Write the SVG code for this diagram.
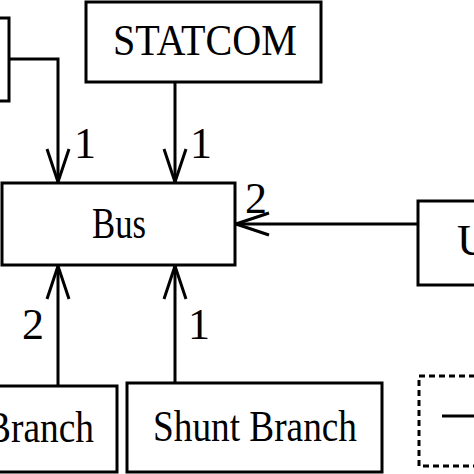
<svg xmlns="http://www.w3.org/2000/svg" width="474" height="474" viewBox="0 0 474 474">
<style>
.box{fill:#fff;stroke:#000;stroke-width:3}
.dash{fill:none;stroke:#000;stroke-width:3;stroke-dasharray:6 4}
.lbl{font-family:"Liberation Serif","Times New Roman",serif;font-size:45px;fill:#000}
.num{font-family:"Liberation Serif","Times New Roman",serif;font-size:44px;fill:#000}
.conn{fill:none;stroke:#000;stroke-width:3;marker-end:url(#arr)}
</style>
<defs>
<marker id="arr" markerUnits="userSpaceOnUse" viewBox="-36 -13 38 26" refX="0" refY="0" markerWidth="38" markerHeight="26" orient="auto">
<path d="M-33 -11 L0 0 L-33 11" fill="none" stroke="#000" stroke-width="3"/>
</marker>
</defs>
<rect width="474" height="474" fill="#fff"/>
<g id="node-left">
<rect class="box" x="-20" y="18" width="29" height="83"/>
</g>
<g id="node-statcom">
<rect class="box" x="86" y="2" width="235" height="80"/>
<text class="lbl" x="113" y="55" textLength="184" lengthAdjust="spacingAndGlyphs">STATCOM</text>
</g>
<g id="node-bus">
<rect class="box" x="2" y="183" width="233" height="82"/>
<text class="lbl" x="92" y="238" textLength="54" lengthAdjust="spacingAndGlyphs">Bus</text>
</g>
<g id="node-u">
<rect class="box" x="418" y="201" width="70" height="84"/>
<text class="lbl" x="457" y="255">U</text>
</g>
<g id="node-branch">
<rect class="box" x="-20" y="386" width="137" height="86"/>
<text class="lbl" x="94" y="442" text-anchor="end" textLength="108" lengthAdjust="spacingAndGlyphs">Branch</text>
</g>
<g id="node-shunt">
<rect class="box" x="127" y="383" width="255" height="89"/>
<text class="lbl" x="153" y="441" textLength="204" lengthAdjust="spacingAndGlyphs">Shunt Branch</text>
</g>
<g id="legend">
<rect class="dash" x="419" y="376" width="70" height="90"/>
<line x1="442" y1="416" x2="480" y2="416" stroke="#000" stroke-width="3"/>
</g>
<g id="connectors">
<path class="conn" d="M9 59 H58 V182"/>
<path class="conn" d="M175 82 V182"/>
<path class="conn" d="M418 224 H236"/>
<path class="conn" d="M58 386 V266"/>
<path class="conn" d="M175 383 V266"/>
<text class="num" x="74" y="158">1</text>
<text class="num" x="190" y="158">1</text>
<text class="num" x="245" y="213">2</text>
<text class="num" x="22" y="339">2</text>
<text class="num" x="188" y="339">1</text>
</g>
</svg>
